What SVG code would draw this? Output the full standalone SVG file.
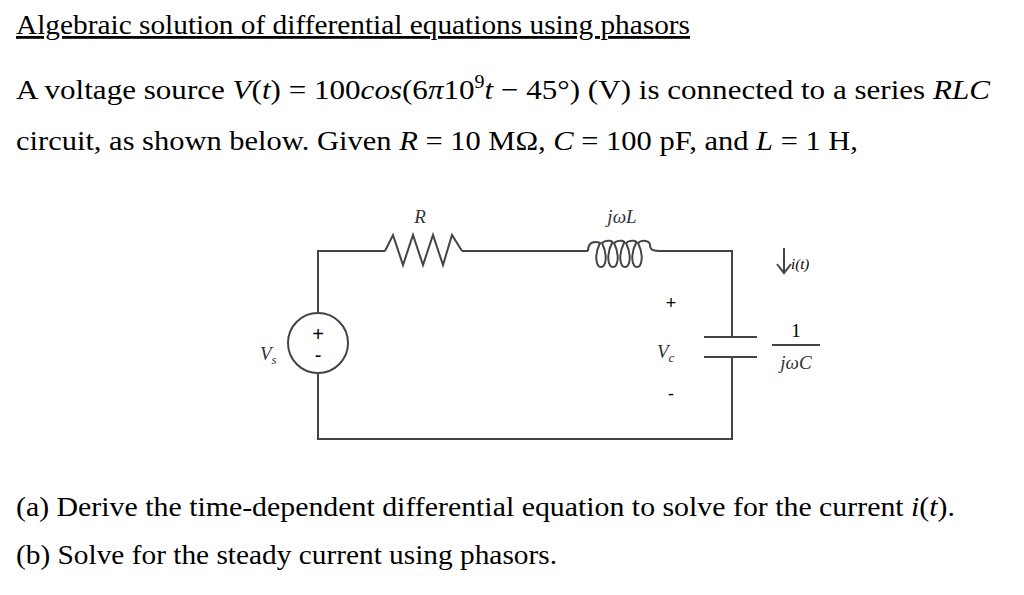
<svg xmlns="http://www.w3.org/2000/svg" width="1024" height="595" viewBox="0 0 1024 595">
<style>
text{font-family:"Liberation Serif","Times New Roman",serif;fill:#000}
.t{font-size:28px}
.c{font-size:19px;font-style:italic;fill:#333}
.w{fill:none;stroke:#444;stroke-width:2}
</style>
<rect width="1024" height="595" fill="#fff"/>
<text class="t" x="16" y="34" text-decoration="underline" textLength="674" lengthAdjust="spacingAndGlyphs">Algebraic solution of differential equations using phasors</text>
<text class="t" x="16" y="99" textLength="974" lengthAdjust="spacingAndGlyphs">A voltage source <tspan font-style="italic">V</tspan>(<tspan font-style="italic">t</tspan>) = 100<tspan font-style="italic">cos</tspan>(6<tspan font-style="italic">π</tspan>10<tspan font-size="18" dy="-11">9</tspan><tspan dy="11" font-style="italic">t</tspan> − 45°) (V) is connected to a series <tspan font-style="italic">RLC</tspan></text>
<text class="t" x="16" y="150" textLength="842" lengthAdjust="spacingAndGlyphs">circuit, as shown below. Given <tspan font-style="italic">R</tspan> = 10 MΩ, <tspan font-style="italic">C</tspan> = 100 pF, and <tspan font-style="italic">L</tspan> = 1 H,</text>
<text class="t" x="16" y="516" textLength="939" lengthAdjust="spacingAndGlyphs">(a) Derive the time-dependent differential equation to solve for the current <tspan font-style="italic">i</tspan>(<tspan font-style="italic">t</tspan>).</text>
<text class="t" x="16" y="564" textLength="541" lengthAdjust="spacingAndGlyphs">(b) Solve for the steady current using phasors.</text>
<g id="connectors">
<path class="w" d="M318,313 V251 H385 M462,251 H588 M662,251 H732 V337 M732,357 V439 H318 V373"/>
</g>
<g id="resistor"><path class="w" d="M385,251 L393,235 L403,265 L413,235 L423,265 L433,235 L443,265 L452,235 L462,251"/>
<text class="c" x="420" y="223" text-anchor="middle">R</text></g>
<g id="inductor"><path class="w" d="M588,251 C588,241 596,241 600,243 C594,255 596,267 601,267 C606,267 608,255 602,243 C606,239 614,241 612,243 C606,255 608,267 613,267 C618,267 620,255 614,243 C618,239 626,241 624,243 C618,255 620,267 625,267 C630,267 632,255 626,243 C630,239 638,241 636,243 C630,255 632,267 637,267 C642,267 644,255 638,243 C642,239 650,241 650,245 C650,251 655,251 662,251"/>
<text class="c" x="622" y="223" text-anchor="middle">jωL</text></g>
<g id="source"><circle class="w" cx="318" cy="343" r="30"/>
<text x="318" y="341" font-size="20" text-anchor="middle" fill="#333" style="font-family:'Liberation Sans',sans-serif">+</text>
<text x="318" y="362" font-size="20" text-anchor="middle" fill="#333" style="font-family:'Liberation Sans',sans-serif">-</text>
<text class="c" x="260" y="360">V<tspan font-size="13" dy="4">s</tspan></text></g>
<g id="capacitor"><path class="w" d="M704,337 H757 M704,357 H757"/>
<text x="671" y="309" font-size="18" text-anchor="middle" fill="#333" style="font-family:'Liberation Sans',sans-serif">+</text>
<text x="671" y="400" font-size="18" text-anchor="middle" fill="#333" style="font-family:'Liberation Sans',sans-serif">-</text>
<text class="c" x="657" y="358">V<tspan font-size="13" dy="4">c</tspan></text>
<text x="796" y="337" font-size="19" text-anchor="middle" fill="#333">1</text>
<path d="M772,345 H820" stroke="#444" stroke-width="2"/>
<text class="c" x="796" y="369" text-anchor="middle">jωC</text></g>
<g id="current"><path class="w" d="M784,248 V272 M777,264 L784,273 L791,264"/>
<text x="791" y="269" font-size="15" font-style="italic" fill="#333">i(t)</text></g>
</svg>
